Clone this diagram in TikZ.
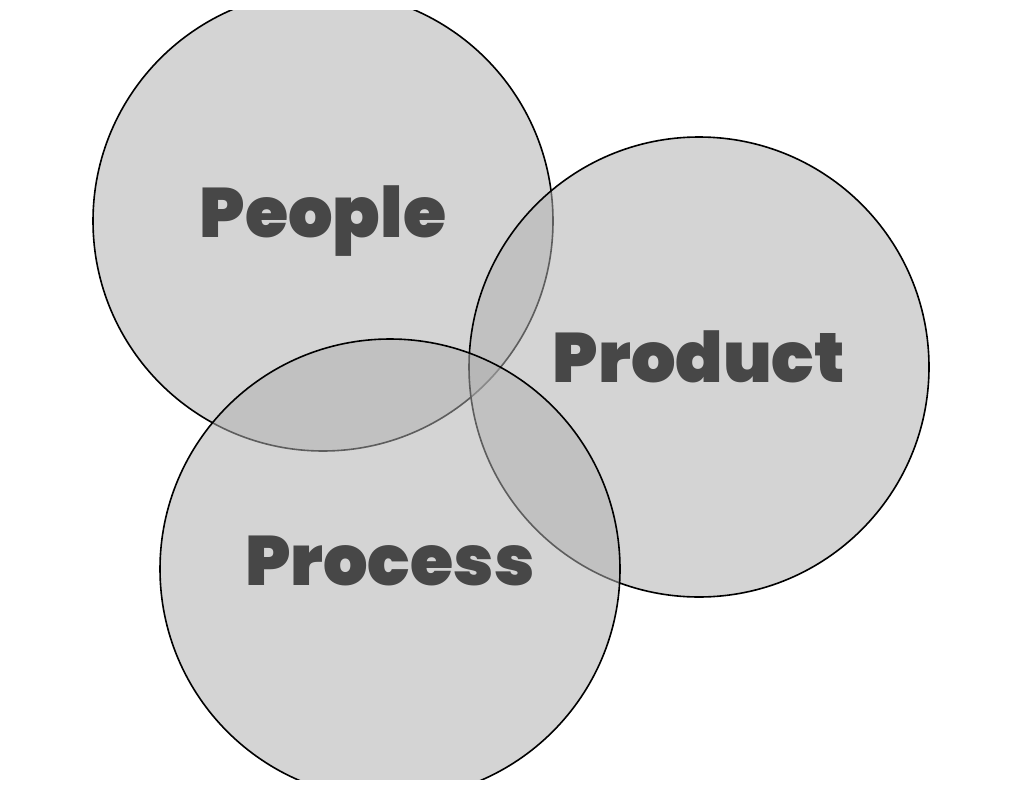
\documentclass[tikz,border=0pt]{standalone}
\usepackage{fontspec}
\newfontfamily\labelfont{Poppins}[UprightFont=* Black]
\usepackage{tikz}

\definecolor{ringgray}{RGB}{175,175,175}
\definecolor{wordgray}{RGB}{71,71,71}

\tikzset{
    ring/.style={circle, draw=black, line width=1.6pt, fill=ringgray,
        fill opacity=0.535, minimum size=460pt, inner sep=0pt},
    word/.style={text=wordgray, anchor=base,
        font=\labelfont\fontsize{70}{70}\selectfont}
}

\begin{document}
\begin{tikzpicture}[x=1pt,y=-1pt]
    \useasboundingbox (0,0) rectangle (1024,792);
    \begin{scope}
        \clip (0,11) rectangle (1024,779);
        \node[ring] (people) at (323,221) {};
        \node[ring] (product) at (699,367) {};
        \node[ring] (process) at (390,569) {};
    \end{scope}
    % labels
    \node[word] (peoplelabel) at (323,237) {People};
    \node[word] (productlabel) at (699,382) {Product};
    \node[word] (processlabel) at (390,585) {Process};
\end{tikzpicture}
\end{document}
